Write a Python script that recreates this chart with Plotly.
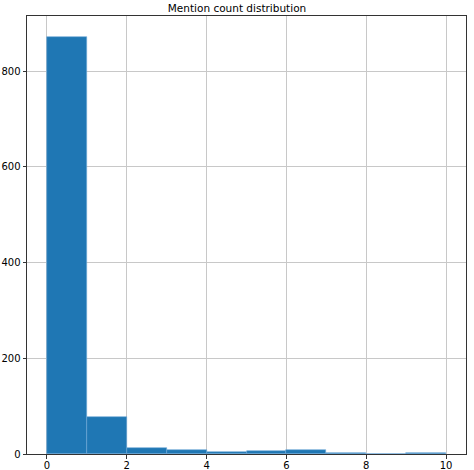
import plotly.graph_objects as go

bin_edges = [0, 1, 2, 3, 4, 5, 6, 7, 8, 9, 10]
counts = [872, 77, 13, 9, 4, 6, 8, 2, 0, 2]
x_ticks = [0, 2, 4, 6, 8, 10]
y_ticks = [0, 200, 400, 600, 800]
title = "Mention count distribution"

centers = [(a + b) / 2 for a, b in zip(bin_edges[:-1], bin_edges[1:])]
widths = [b - a for a, b in zip(bin_edges[:-1], bin_edges[1:])]

fig = go.Figure(go.Bar(
    x=centers, y=counts, width=widths,
    marker=dict(color="#1f77b4", line=dict(color="#6fa8d6", width=0.6)),
))

axis_common = dict(
    showline=True, linecolor="#333333", linewidth=1, mirror=True,
    ticks="outside", ticklen=3.5, tickcolor="#333333", tickwidth=0.8,
    showgrid=True, gridcolor="#c8c8c8", gridwidth=0.8, zeroline=False,
    automargin=False,
    tickfont=dict(family="DejaVu Sans", size=10, color="black"),
)

fig.update_layout(
    width=474, height=470,
    margin=dict(l=27, r=8, t=16, b=16, autoexpand=False),
    paper_bgcolor="white", plot_bgcolor="white",
    showlegend=False, bargap=0,
    title=dict(text=title, x=0.5, xanchor="center", y=0.99, yanchor="top",
               automargin=False,
               font=dict(family="DejaVu Sans", size=10.5, color="black")),
    xaxis=dict(range=[-0.5, 10.5], tickvals=x_ticks, ticklabelstandoff=-2, **axis_common),
    yaxis=dict(range=[0, max(counts) * 1.05], tickvals=y_ticks, **axis_common),
)

fig.write_html(
    "out.html",
    config={"displayModeBar": False},
    post_script="document.body.style.margin='0';document.body.style.overflow='hidden';",
)
